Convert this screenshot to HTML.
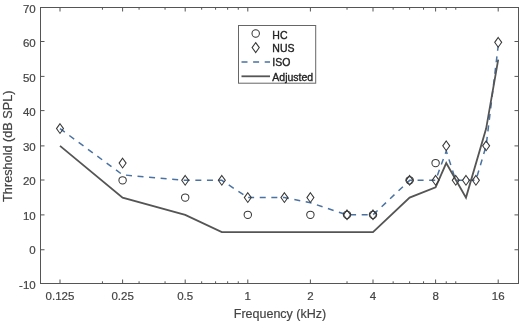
<!DOCTYPE html>
<html><head><meta charset="utf-8"><title>Threshold vs Frequency</title>
<style>html,body{margin:0;padding:0;background:#fff}svg{display:block}</style></head>
<body>
<svg width="520" height="322" viewBox="0 0 520 322" font-family="'Liberation Sans', Arial, sans-serif">
<rect width="520" height="322" fill="#fff"/>
<rect x="40.5" y="7.5" width="478.0" height="276.0" fill="none" stroke="#555" stroke-width="1"/>
<path d="M60.00 283.5v-4M60.00 7.5v4M122.60 283.5v-4M122.60 7.5v4M185.20 283.5v-4M185.20 7.5v4M247.80 283.5v-4M247.80 7.5v4M310.40 283.5v-4M310.40 7.5v4M373.00 283.5v-4M373.00 7.5v4M435.60 283.5v-4M435.60 7.5v4M498.20 283.5v-4M498.20 7.5v4M102.45 283.5v-2.2M102.45 7.5v2.2M139.07 283.5v-2.2M139.07 7.5v2.2M165.05 283.5v-2.2M165.05 7.5v2.2M201.67 283.5v-2.2M201.67 7.5v2.2M215.59 283.5v-2.2M215.59 7.5v2.2M227.65 283.5v-2.2M227.65 7.5v2.2M238.28 283.5v-2.2M238.28 7.5v2.2M347.02 283.5v-2.2M347.02 7.5v2.2M393.15 283.5v-2.2M393.15 7.5v2.2M409.62 283.5v-2.2M409.62 7.5v2.2M423.54 283.5v-2.2M423.54 7.5v2.2M446.24 283.5v-2.2M446.24 7.5v2.2M455.75 283.5v-2.2M455.75 7.5v2.2M40.5 249.75h4M518.5 249.75h-4M40.5 214.90h4M518.5 214.90h-4M40.5 180.00h4M518.5 180.00h-4M40.5 145.90h4M518.5 145.90h-4M40.5 110.60h4M518.5 110.60h-4M40.5 76.40h4M518.5 76.40h-4M40.5 41.50h4M518.5 41.50h-4" stroke="#555" stroke-width="1" fill="none"/>
<g font-size="11.5" fill="#444" stroke="#444" stroke-width="0.2">
<text x="35.7" y="288.85" text-anchor="end">-10</text>
<text x="35.7" y="254.35" text-anchor="end">0</text>
<text x="35.7" y="219.85" text-anchor="end">10</text>
<text x="35.7" y="185.35" text-anchor="end">20</text>
<text x="35.7" y="150.85" text-anchor="end">30</text>
<text x="35.7" y="116.35" text-anchor="end">40</text>
<text x="35.7" y="81.85" text-anchor="end">50</text>
<text x="35.7" y="47.35" text-anchor="end">60</text>
<text x="35.7" y="12.85" text-anchor="end">70</text>
<text x="60.00" y="300.3" text-anchor="middle">0.125</text>
<text x="122.60" y="300.3" text-anchor="middle">0.25</text>
<text x="185.20" y="300.3" text-anchor="middle">0.5</text>
<text x="247.80" y="300.3" text-anchor="middle">1</text>
<text x="310.40" y="300.3" text-anchor="middle">2</text>
<text x="373.00" y="300.3" text-anchor="middle">4</text>
<text x="435.60" y="300.3" text-anchor="middle">8</text>
<text x="498.20" y="300.3" text-anchor="middle">16</text>
</g>
<text x="280" y="317.6" text-anchor="middle" font-size="12.5" fill="#444" stroke="#444" stroke-width="0.2">Frequency (kHz)</text>
<text  transform="translate(12.1 146.2) rotate(-90)" text-anchor="middle" font-size="12.7" fill="#444" stroke="#444" stroke-width="0.2">Threshold (dB SPL)</text>
<path d="M60.00 128.60L122.60 174.83L185.20 180.35L221.82 180.35L247.80 197.60L284.42 197.60L310.40 202.77L347.02 214.85L373.00 214.85L409.62 180.35L435.60 180.35L446.24 151.02L455.75 180.35L465.99 180.35L475.91 180.35L486.14 145.85L498.20 45.80" fill="none" stroke="#4a72a2" stroke-width="1.5" stroke-dasharray="6 5.6"/>
<path d="M60.00 145.85L122.60 197.60L185.20 214.85L221.82 232.10L247.80 232.10L373.00 232.10L409.62 197.60L435.60 187.25L446.24 163.10L465.99 197.60L486.14 128.60L498.20 59.60" fill="none" stroke="#555" stroke-width="1.8" stroke-linejoin="miter"/>
<g fill="none" stroke="#383838" stroke-width="1.05">
<circle cx="122.60" cy="180.35" r="3.7"/>
<circle cx="185.20" cy="197.60" r="3.7"/>
<circle cx="247.80" cy="214.85" r="3.7"/>
<circle cx="310.40" cy="214.85" r="3.7"/>
<circle cx="347.02" cy="214.85" r="3.7"/>
<circle cx="373.00" cy="214.85" r="3.7"/>
<circle cx="409.62" cy="180.35" r="3.7"/>
<circle cx="435.60" cy="163.10" r="3.7"/>
<path d="M60.00 123.75l3.5 4.85l-3.5 4.85l-3.5 -4.85z"/>
<path d="M122.60 158.25l3.5 4.85l-3.5 4.85l-3.5 -4.85z"/>
<path d="M185.20 175.50l3.5 4.85l-3.5 4.85l-3.5 -4.85z"/>
<path d="M221.82 175.50l3.5 4.85l-3.5 4.85l-3.5 -4.85z"/>
<path d="M247.80 192.75l3.5 4.85l-3.5 4.85l-3.5 -4.85z"/>
<path d="M284.42 192.75l3.5 4.85l-3.5 4.85l-3.5 -4.85z"/>
<path d="M310.40 192.75l3.5 4.85l-3.5 4.85l-3.5 -4.85z"/>
<path d="M347.02 210.00l3.5 4.85l-3.5 4.85l-3.5 -4.85z"/>
<path d="M373.00 210.00l3.5 4.85l-3.5 4.85l-3.5 -4.85z"/>
<path d="M409.62 175.50l3.5 4.85l-3.5 4.85l-3.5 -4.85z"/>
<path d="M435.60 175.50l3.5 4.85l-3.5 4.85l-3.5 -4.85z"/>
<path d="M446.24 141.00l3.5 4.85l-3.5 4.85l-3.5 -4.85z"/>
<path d="M455.75 175.50l3.5 4.85l-3.5 4.85l-3.5 -4.85z"/>
<path d="M465.99 175.50l3.5 4.85l-3.5 4.85l-3.5 -4.85z"/>
<path d="M475.91 175.50l3.5 4.85l-3.5 4.85l-3.5 -4.85z"/>
<path d="M486.14 141.00l3.5 4.85l-3.5 4.85l-3.5 -4.85z"/>
<path d="M498.20 37.50l3.5 4.85l-3.5 4.85l-3.5 -4.85z"/>
</g>
<rect x="238.5" y="25.5" width="77.2" height="57.7" fill="#fff" stroke="#666" stroke-width="1"/>
<circle cx="255.7" cy="33.5" r="3.7" fill="none" stroke="#383838" stroke-width="1.05"/>
<path d="M255.7 42.6l3.6 5l-3.6 5l-3.6 -5z" fill="none" stroke="#383838" stroke-width="1.05"/>
<path d="M241.5 62H270" stroke="#4a72a2" stroke-width="1.5" stroke-dasharray="6 5.6"/>
<path d="M241.5 76.3H270" stroke="#555" stroke-width="1.8"/>
<g font-size="10.5" fill="#222" stroke="#222" stroke-width="0.35">
<text x="272.3" y="38.5">HC</text>
<text x="272.3" y="52.2">NUS</text>
<text x="272.3" y="66.4">ISO</text>
<text x="272.3" y="81.2">Adjusted</text>
</g>
</svg>
</body></html>
